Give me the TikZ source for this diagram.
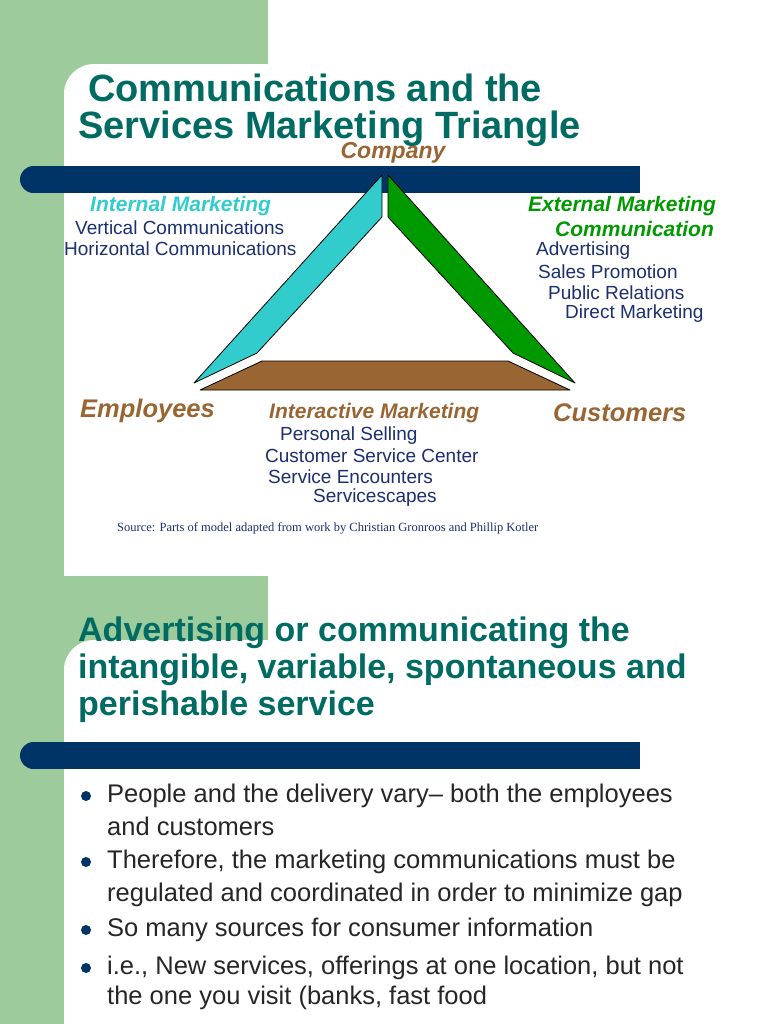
\documentclass[tikz,border=0pt]{standalone}
\usepackage{fontspec}
\setmainfont{Liberation Sans}
\newfontfamily\tnr{Liberation Serif}
\definecolor{bggreen}{HTML}{9DCB9B}
\definecolor{navy}{HTML}{003366}
\definecolor{teal}{HTML}{006B63}
\definecolor{txt}{HTML}{1C2F6E}
\definecolor{cyanf}{HTML}{33CCCC}
\definecolor{greenf}{HTML}{009900}
\definecolor{brownf}{HTML}{996633}
\begin{document}
\begin{tikzpicture}[x=1pt,y=-1pt,
  tl/.style={anchor=west,inner sep=0pt,text=teal,font=\fontsize{38}{42}\selectfont\bfseries},
  tl2/.style={anchor=west,inner sep=0pt,text=teal,font=\fontsize{34}{38}\selectfont\bfseries},
  bt/.style={anchor=west,inner sep=0pt,text=txt,font=\fontsize{19}{22}\selectfont},
  hd/.style={anchor=west,inner sep=0pt,font=\fontsize{21}{24}\selectfont\bfseries\itshape},
  big/.style={anchor=west,inner sep=0pt,text=brownf,font=\fontsize{25.5}{28}\selectfont\bfseries\itshape},
  bl/.style={anchor=west,inner sep=0pt,text=black!85,font=\fontsize{25.5}{29}\selectfont},
  dot/.style={circle,fill=navy,inner sep=0pt,minimum size=10pt},
  shp/.style={draw=black,line width=0.8pt,line join=round}]
\useasboundingbox (0,0) rectangle (768,1024);
\fill[bggreen] (0,0) rectangle (768,1024);
\fill[white] (268,0) rectangle (768,64);
\fill[white] (94,64) rectangle (768,576);
\fill[white] (64,94) rectangle (768,576);
\fill[white] (94,94) circle[radius=30];
\fill[white] (268,576) rectangle (768,640);
\fill[white] (94,640) rectangle (768,1024);
\fill[white] (64,670) rectangle (768,1024);
\fill[white] (94,670) circle[radius=30];
\fill[navy] (33.5,166) rectangle (640,193);
\fill[navy] (33.5,179.5) circle[radius=13.5];
\fill[navy] (33.5,742) rectangle (640,769);
\fill[navy] (33.5,755.5) circle[radius=13.5];
\node[tl] (t1) at (88,88) {Communications and the};
\node[tl] (t2) at (78,129) {Services Marketing Triangle};
\node[big,anchor=center,font=\fontsize{23}{26}\selectfont\bfseries\itshape] (co) at (393,153) {Company};
\draw[shp,fill=cyanf] (194,383) -- (382,175) -- (382,217) -- (257,353) -- cycle;
\draw[shp,fill=greenf] (388,175) -- (388,217) -- (513,353) -- (575,383) -- cycle;
\draw[shp,fill=brownf] (200,390) -- (262,361) -- (508,361) -- (570,390) -- cycle;
\node[hd,text=cyanf] (im) at (90,206) {Internal Marketing};
\node[bt] (v) at (75,228) {Vertical Communications};
\node[bt] (h) at (64,249) {Horizontal Communications};
\node[hd,text=greenf] (em) at (528,206) {External Marketing};
\node[hd,text=greenf] (em2) at (555,229) {Communication};
\node[bt] (a1) at (536,251) {Advertising};
\node[bt] (a2) at (538,272) {Sales Promotion};
\node[bt] (a3) at (548,293) {Public Relations};
\node[bt] (a4) at (565,314) {Direct Marketing};
\node[big] (emp) at (80,411) {Employees};
\node[big] (cus) at (553,413) {Customers};
\node[hd,text=brownf] (int) at (269,413) {Interactive Marketing};
\node[bt] (p1) at (280,436) {Personal Selling};
\node[bt] (p2) at (265,456) {Customer Service Center};
\node[bt] (p3) at (268,477) {Service Encounters};
\node[bt] (p4) at (313,498) {Servicescapes};
\node[anchor=west,inner sep=0pt,text=txt,font=\tnr\fontsize{12.5}{14}\selectfont] (src) at (117,528) {Source: Parts of model adapted from work by Christian Gronroos and Phillip Kotler};
\node[tl2] (s1) at (78,633) {Advertising or communicating the};
\node[tl2] (s2) at (78,670) {intangible, variable, spontaneous and};
\node[tl2] (s3) at (78,707) {perishable service};
\node[dot] (d1) at (86,796) {};
\node[bl] (b1) at (107,796) {People and the delivery vary-- both the employees};
\node[bl] (b1b) at (107,826) {and customers};
\node[dot] (d2) at (86,862) {};
\node[bl] (b2) at (107,862) {Therefore, the marketing communications must be};
\node[bl] (b2b) at (107,895) {regulated and coordinated in order to minimize gap};
\node[dot] (d3) at (86,930) {};
\node[bl] (b3) at (107,930) {So many sources for consumer information};
\node[dot] (d4) at (86,968) {};
\node[bl] (b4) at (107,968) {i.e., New services, offerings at one location, but not};
\node[bl] (b4b) at (107,998) {the one you visit (banks, fast food};
\end{tikzpicture}
\end{document}
